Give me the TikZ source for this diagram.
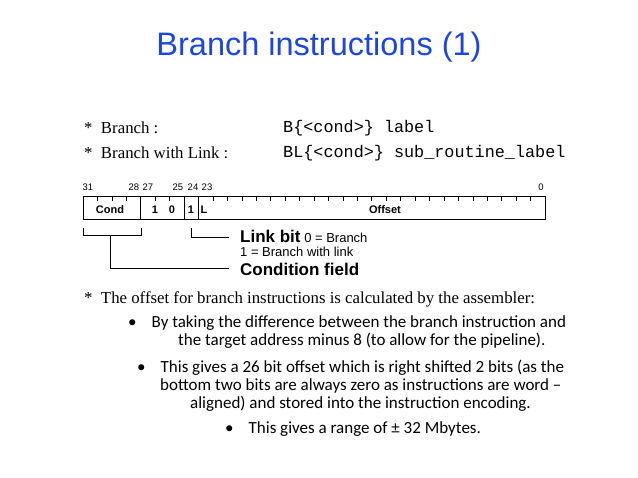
\documentclass[tikz,border=0pt]{standalone}
\usepackage{fontspec}
\setmainfont{Liberation Serif}
\setsansfont{Liberation Sans}
\setmonofont{Liberation Mono}
\newfontfamily\calib{Carlito}
\definecolor{titleblue}{RGB}{30,70,220}
\begin{document}
\begin{tikzpicture}[x=1pt,y=-1pt,
  ser/.style={anchor=west,inner sep=0,font=\fontsize{16.8}{18}\selectfont},
  mon/.style={anchor=west,inner sep=0,font=\ttfamily\fontsize{16.8}{18}\selectfont},
  cal/.style={anchor=west,inner sep=0,font=\calib\fontsize{17}{18}\selectfont},
  bitn/.style={inner sep=0,font=\sffamily\fontsize{9.5}{10}\selectfont},
  fld/.style={inner sep=0,font=\sffamily\bfseries\fontsize{11}{12}\selectfont},
  brk/.style={line width=0.8pt}]
\useasboundingbox (0,0) rectangle (638,478);
\node[inner sep=0,text=titleblue,font=\sffamily\fontsize{32.5}{36}\selectfont] (title) at (319,47) {Branch instructions (1)};
\node[ser] (b1) at (84,128) {*\ \ Branch :};
\node[mon] (c1) at (283,128) {B\{<cond>\} label};
\node[ser] (b2) at (84,153) {*\ \ Branch with Link :};
\node[mon] (c2) at (283,153) {BL\{<cond>\} sub\_routine\_label};
% instruction box
\pgfmathsetmacro{\w}{(545-83)/32}
\draw[line width=0.8pt] (83,196) rectangle (545,219);
\foreach \i in {4,7,8} \draw[line width=0.8pt] ({83+\i*\w},196) -- ({83+\i*\w},219);
\foreach \i in {1,2,3,5,6,9,10,11,12,13,14,15,16,17,18,19,20,21,22,23,24,25,26,27,28,29,30,31}
  \draw[line width=0.6pt] ({83+\i*\w},196) -- ({83+\i*\w},201);
\node[bitn] (n31) at (88,187) {31};
\node[bitn] (n28) at (134,187) {28};
\node[bitn] (n27) at (148,187) {27};
\node[bitn] (n25) at (178,187) {25};
\node[bitn] (n24) at (193,187) {24};
\node[bitn] (n23) at (207,187) {23};
\node[bitn] (n0) at (541,187) {0};
\node[fld] (cond) at (110,210) {Cond};
\node[fld] (one) at (155,210) {1};
\node[fld] (zero) at (172,210) {0};
\node[fld] (lb) at (191,210) {1};
\node[fld] (L) at (204,210) {L};
\node[fld] (off) at (385,210) {Offset};
% brackets
\coordinate (ca) at (83,228); \coordinate (cb) at (141,228);
\coordinate (la) at (191,228); \coordinate (lc) at (229,237); \coordinate (cc) at (229,268);
\draw[brk] (ca) |- (141,235) -- (cb);
\draw[brk] (110,235) |- (cc);
\draw[brk] (la) |- (lc);
\node[inner sep=0,anchor=west,font=\sffamily\fontsize{13}{15}\selectfont] (lk) at (240,236) {{\bfseries\fontsize{17}{18}\selectfont Link bit}\ 0 = Branch};
\node[inner sep=0,anchor=west,font=\sffamily\fontsize{13}{15}\selectfont] (lk2) at (240,252) {1 = Branch with link};
\node[inner sep=0,anchor=west,font=\sffamily\bfseries\fontsize{17}{18}\selectfont] (cf) at (240,269) {Condition field};
\node[ser] (b3) at (84,299) {*\ \ The offset for branch instructions is calculated by the assembler:};
\node[cal] (p1) at (128,323) {•\hspace{15pt}By taking the difference between the branch instruction and};
\node[cal] (p1b) at (178,341) {the target address minus 8 (to allow for the pipeline).};
\node[cal] (p2) at (137,368) {•\hspace{15pt}This gives a 26 bit offset which is right shifted 2 bits (as the};
\node[cal] (p2b) at (160,386) {bottom two bits are always zero as instructions are word –};
\node[cal] (p2c) at (190,404) {aligned) and stored into the instruction encoding.};
\node[cal] (p3) at (225,429) {•\hspace{15pt}This gives a range of ± 32 Mbytes.};
\end{tikzpicture}
\end{document}
